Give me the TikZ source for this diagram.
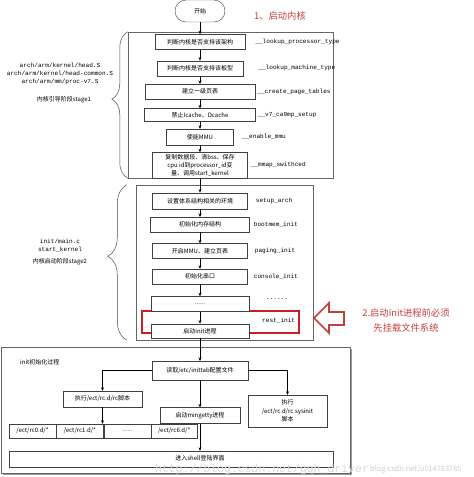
\documentclass[tikz,border=0pt]{standalone}
\usepackage{fontspec}
\setmainfont{Liberation Serif}
\newfontfamily\cjk{Noto Sans CJK SC}
\newfontfamily\mono{Liberation Mono}
\usetikzlibrary{positioning,arrows.meta,decorations.pathreplacing,shadows}
\definecolor{kred}{RGB}{196,62,62}
\definecolor{bred}{RGB}{200,30,40}

\begin{document}
\begin{tikzpicture}[x=1pt,y=-1pt,
        box/.style={draw=black!75, fill=white, inner sep=0pt, minimum height=15pt,
            align=center, font=\cjk\fontsize{6}{8}\selectfont},
        startbox/.style={box, rounded corners=11pt, minimum width=50pt, minimum height=22pt},
        fn/.style={inner sep=0pt, font=\mono\fontsize{6.1}{7}\selectfont},
        note/.style={inner sep=0pt, align=center, font=\cjk\fontsize{6}{8}\selectfont},
        stagebox/.style={draw=black!60, inner sep=0pt},
        initbox/.style={draw=black!60, fill=white, inner sep=0pt,
            drop shadow={shadow xshift=1.5pt, shadow yshift=-1.5pt, fill=black!40, opacity=1}},
        redbox/.style={draw=bred, line width=1.8pt, inner sep=0pt},
        redtxt/.style={text=kred, inner sep=0pt, align=center, font=\cjk\fontsize{9.3}{15}\selectfont},
        arr/.style={-{Stealth[length=3.5pt,width=3pt]}, black, line width=0.5pt},
        brace/.style={decorate, draw=black!70, line width=0.5pt}]
    \useasboundingbox (0,0) rectangle (474,477);

    % frames of the three stages
    \node[stagebox, minimum width=205pt, minimum height=146pt] (s1) at (230.5,105) {};
    \node[stagebox, minimum width=177pt, minimum height=155pt] (s2) at (224.5,262.5) {};
    \node[initbox, minimum width=349pt, minimum height=126pt] (ib) at (175.5,410) {};
    \node[redbox, minimum width=157pt, minimum height=22pt] (rb) at (220.5,322) {};

    % stage1
    \node[startbox] (st) at (200,11) {开始};
    \node[box, minimum width=90pt, below=12pt of st] (b1) {判断内核是否支持该架构};
    \node[box, minimum width=86pt, below=11pt of b1] (b2) {判断内核是否支持该板型};
    \node[box, minimum width=110pt, below=8pt of b2] (b3) {建立一级页表};
    \node[box, minimum width=111pt, minimum height=13pt, below=9pt of b3] (b4) {禁止Icache、Dcache};
    \node[box, minimum width=67pt, minimum height=16pt, below=7pt of b4] (b5) {使能MMU};
    \node[box, minimum width=95pt, minimum height=26pt, below=7pt of b5] (b6)
        {复制数据段、清bss、保存\\cpu id到processor\_id变\\量、调用start\_kernel};

    % stage2
    \node[box, minimum width=95pt, minimum height=16pt, below=14pt of b6] (b7) {设置体系结构相关的环境};
    \node[box, minimum width=99pt, below=8pt of b7] (b8) {初始化内存结构};
    \node[box, minimum width=95pt, below=11pt of b8] (b9) {开启MMU、建立页表};
    \node[box, minimum width=95pt, below=10pt of b9] (b10) {初始化串口};
    \node[box, minimum width=98pt, below=12pt of b10] (b11) {......};
    \node[box, minimum width=98pt, minimum height=14pt, below=12pt of b11] (b12) {启动init进程};

    % init
    \node[box, minimum width=96pt, minimum height=19pt, below=23pt of b12] (it) {读取/etc/inittab配置文件};
    \node[box, minimum width=80pt, minimum height=16pt, below=27pt of it] (mg) {启动mingetty进程};
    \node[box, minimum width=79pt, minimum height=16pt] (rc) at (102.5,399) {执行/ect/rc.d/rc脚本};
    \node[box, minimum width=79pt, minimum height=32pt, font=\cjk\fontsize{6}{8.5}\selectfont] (sy) at (287.5,411)
        {执行\\/ect/rc.d/rc.sysinit\\脚本};
    \node[box, minimum width=47pt, minimum height=14pt] (rc0) at (32.5,431) {/ect/rc0.d/*};
    \node[box, minimum width=47pt, minimum height=14pt, right=0pt of rc0] (rc1) {/ect/rc1.d/*};
    \node[box, minimum width=47pt, minimum height=14pt, right=0pt of rc1] (rcd) {......};
    \node[box, minimum width=46pt, minimum height=14pt, right=0pt of rcd] (rc6) {/ect/rc6.d/*};
    \node[box, minimum width=324pt, minimum height=16pt] (sh) at (171,459) {};
    \node[note] (sht) at (200,458.5) {进入shell登陆界面};

    % arrows
    \draw[arr] (st) -- (b1);
    \draw[arr] (b1) -- (b2);
    \draw[arr] (b2) -- (b3);
    \draw[arr] (b3) -- (b4);
    \draw[arr] (b4) -- (b5);
    \draw[arr] (b5) -- (b6);
    \draw[arr] (b6) -- (b7);
    \draw[arr] (b7) -- (b8);
    \draw[arr] (b8) -- (b9);
    \draw[arr] (b9) -- (b10);
    \draw[arr] (b10) -- (b11);
    \draw[arr] (b11) -- (b12);
    \draw[arr] (b12) -- (it);
    \draw[arr] (it.west) -| (rc.north);
    \draw[arr] (it.east) -| (sy.north);
    \draw[arr] (it) -- (mg);
    \draw[arr] (rc.south) -- (rc.south |- rc1.north);
    \draw[arr] (mg.south) -- (mg.south |- sh.north);

    % function names
    \node[fn, right=10pt of b1] (l1) {\_\_lookup\_processor\_type};
    \node[fn, right=15pt of b2] (l2) {\_\_lookup\_machine\_type};
    \node[fn, right=2pt of b3] (l3) {\_\_create\_page\_tables};
    \node[fn, right=2pt of b4] (l4) {\_\_v7\_ca9mp\_setup};
    \node[fn, right=8pt of b5] (l5) {\_\_enable\_mmu};
    \node[fn, right=3pt of b6] (l6) {\_\_mmap\_swithced};
    \node[fn, right=8pt of b7] (l7) {setup\_arch};
    \node[fn, right=4pt of b8] (l8) {bootmem\_init};
    \node[fn, right=7pt of b9] (l9) {paging\_init};
    \node[fn, right=6pt of b10] (l10) {console\_init};
    \node[fn] (l11) at (277,299) {......};
    \node[fn, anchor=west] (l12) at (262,321) {rest\_init};

    % left notes and braces
    \node[fn, align=center, font=\mono\fontsize{6.1}{8}\selectfont] (n1) at (60,74)
        {arch/arm/kernel/head.S\\arch/arm/kernel/head-common.S\\arch/arm/mm/proc-v7.S};
    \node[note] (n2) at (64,100) {内核引导阶段stage1};
    \draw[brace, decoration={brace, amplitude=16pt, aspect=0.54}] (s1.south west) -- (s1.north west);
    \node[fn, align=center, font=\mono\fontsize{6.1}{8}\selectfont] (n3) at (60,246)
        {init/main.c\\start\_kernel};
    \node[note] (n4) at (60,262) {内核启动阶段stage2};
    \draw[brace, decoration={brace, amplitude=19pt, aspect=0.54}]
        ([xshift=-9pt]s2.south west) -- ([xshift=-9pt]s2.north west);
    \node[note, anchor=west] (n5) at (20,362) {init初始化过程};

    % red remarks
    \node[redtxt] (t1) at (280,16) {1、启动内核};
    \draw[draw=kred, line width=1.6pt, line join=miter]
        (314,318) -- (329,303) -- (329,312) -- (344,312) -- (344,325) -- (329,325) -- (329,333) -- cycle;
    \node[redtxt] (t2) at (406,320) {2.启动init进程前必须\\先挂载文件系统};

    % watermark
    \node[inner sep=0pt, text=black!15, font=\mono\fontsize{11.5}{12}\selectfont] (w1) at (262,470)
        {http://blog.csdn.net/gqh\_driver};
    \node[inner sep=0pt, anchor=west, text=black!20, font=\cjk\fontsize{7.4}{8}\selectfont] (w2) at (370,469)
        {blog.csdn.net/u014783785};
\end{tikzpicture}
\end{document}
